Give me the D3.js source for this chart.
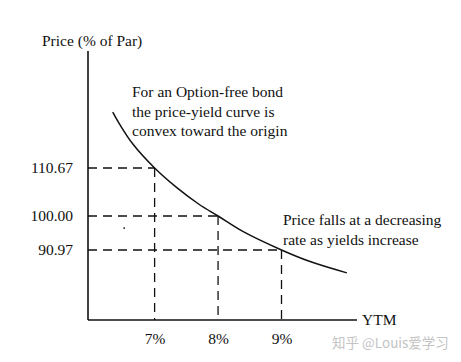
<!DOCTYPE html>
<html>
<head>
<meta charset="utf-8">
<script src="https://cdn.jsdelivr.net/npm/d3@7"></script>
<style>
  body { margin: 0; background: #fff; }
</style>
</head>
<body>
<svg id="chart" width="461" height="362"></svg>
<script>
// yields (%) marked on the x axis and the matching prices
const yieldTicks = [7, 8, 9];
const priceTicks = [90.97, 100.00, 110.67];

// price-yield curve
const curveYields = [6.34, 6.45, 6.66, 7.00, 7.35, 7.71, 8.00, 8.39, 9.00, 9.45, 10.03];
const curvePrices = [123.0, 120.3, 115.9, 110.67, 106.3, 102.5, 100.00, 95.9, 90.97, 87.9, 84.9];

// stray dot in the original figure
const strayDot = [6.52, 96.8];

const noteTop = ["For an Option-free bond", "the price-yield curve is", "convex toward the origin"];
const noteRight = ["Price falls at a decreasing", "rate as yields increase"];

const SERIF = "Liberation Serif";

const svg = d3.select("#chart");
const margin = {left: 88, top: 51, right: 104, bottom: 42};
const width = 461 - margin.left - margin.right;
const height = 362 - margin.top - margin.bottom;

const x = d3.scaleLinear().domain([5.95, 10.19]).range([0, width]);
// the axis in the figure is not to scale, so use a piecewise scale
const y = d3.scaleLinear()
    .domain([72.4, 90.97, 100, 110.67, 136.5])
    .range([height, height - 70, height - 104, height - 152, 0]);

const g = svg.append("g").attr("transform", `translate(${margin.left},${margin.top})`);

// dashed guides from each point to both axes
yieldTicks.forEach(function(t, i){
  let px = x(t), py = y(priceTicks[2 - i]);
  g.append("line").attr("x1", 0).attr("x2", px).attr("y1", py).attr("y2", py)
    .attr("stroke", "#111").attr("stroke-width", 1.3).attr("stroke-dasharray", "9,6");
  g.append("line").attr("x1", px).attr("x2", px).attr("y1", py).attr("y2", height)
    .attr("stroke", "#111").attr("stroke-width", 1.3).attr("stroke-dasharray", "9,6");
});

// axes
g.append("line").attr("x1", 0).attr("x2", 0).attr("y1", 0).attr("y2", height)
  .attr("stroke", "#111").attr("stroke-width", 1.6);
g.append("line").attr("x1", 0).attr("x2", width).attr("y1", height).attr("y2", height)
  .attr("stroke", "#111").attr("stroke-width", 1.6);

const xAxis = g.append("g").attr("transform", `translate(0,${height})`)
  .call(d3.axisBottom(x).tickValues(yieldTicks).tickSize(0).tickPadding(13).tickFormat(d => d + "%"));
xAxis.select(".domain").remove();

const yAxis = g.append("g")
  .call(d3.axisLeft(y).tickValues(priceTicks).tickSize(0).tickPadding(15).tickFormat(d3.format(".2f")));
yAxis.select(".domain").remove();

xAxis.attr("font-family", SERIF).attr("font-size", 15.5);
yAxis.attr("font-family", SERIF).attr("font-size", 15.5);
svg.selectAll(".tick text").attr("fill", "#111");

// curve
const pts = curveYields.map((v, i) => [v, curvePrices[i]]);
g.append("path")
  .datum(pts)
  .attr("fill", "none")
  .attr("stroke", "#111")
  .attr("stroke-width", 1.5)
  .attr("d", d3.line().x(d => x(d[0])).y(d => y(d[1])).curve(d3.curveCatmullRom));

g.append("circle").attr("cx", x(strayDot[0])).attr("cy", y(strayDot[1])).attr("r", 0.9).attr("fill", "#111");

// all the serif labels go in one group
const labels = svg.append("g").attr("font-family", SERIF).attr("font-size", 15.5).attr("fill", "#111");

function addText(xx, yy, txt) {
  return labels.append("text").attr("x", xx).attr("y", yy)
    .style("font-family", SERIF).text(txt);
}

addText(42, 46, "Price (% of Par)");
addText(362, 325, "YTM");
noteTop.forEach((d, i) => addText(132, 97 + i * 19.5, d));
noteRight.forEach((d, i) => addText(283, 225 + i * 19.5, d));

// watermark
svg.append("text").attr("x", 332).attr("y", 348)
  .attr("font-family", "Noto Sans CJK SC")
  .attr("font-size", 13.5).attr("fill", "#c4c4c4")
  .text("知乎 @Louis爱学习");
</script>
</body>
</html>
